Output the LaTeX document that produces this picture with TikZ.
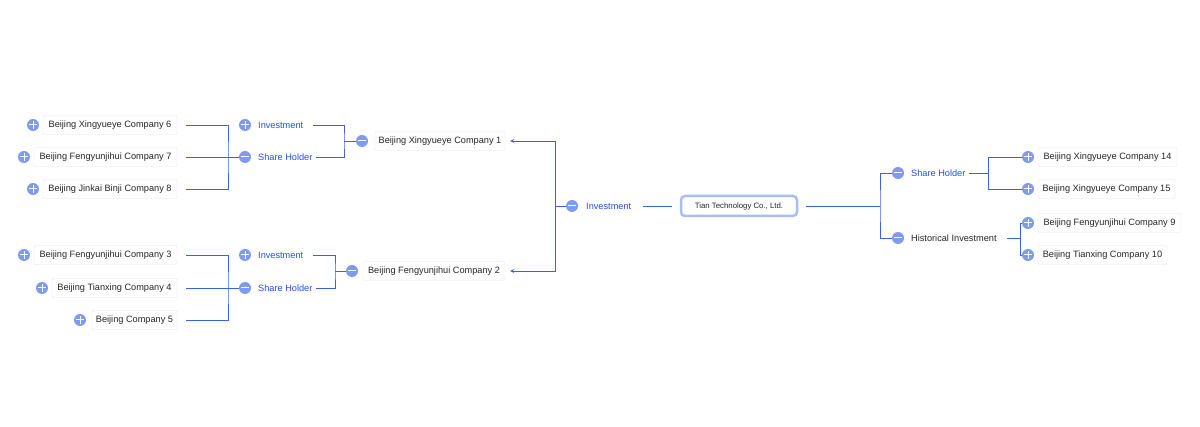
\documentclass[tikz,border=0pt]{standalone}
\usepackage{fontspec}
\setmainfont{Liberation Sans}
\definecolor{ln}{HTML}{3B5FF0}
\definecolor{tx}{HTML}{1F4FF0}
\definecolor{cf}{HTML}{7E9BF4}
\definecolor{bd}{HTML}{E4E4E4}
\definecolor{rb}{HTML}{A9BDF8}
\tikzset{
 box/.style={draw=bd,rounded corners=2pt,fill=white,minimum height=19pt,inner sep=0pt,font=\fontsize{9.2}{11}\selectfont,text=black!85},
 lbl/.style={inner sep=0pt,anchor=west,font=\fontsize{9.2}{11}\selectfont},
 blbl/.style={lbl,text=tx},
 link/.style={draw=ln,line width=0.8pt},
 btn/.style={circle,fill=cf,minimum size=12pt,inner sep=0pt},
 plusb/.style={btn,path picture={\draw[white,line width=1pt]
   ([xshift=-4pt]path picture bounding box.center)--([xshift=4pt]path picture bounding box.center)
   ([yshift=-4pt]path picture bounding box.center)--([yshift=4pt]path picture bounding box.center);}},
 minusb/.style={btn,path picture={\draw[white,line width=1pt]
   ([xshift=-4pt]path picture bounding box.center)--([xshift=4pt]path picture bounding box.center);}},
}
\begin{document}
\begin{tikzpicture}[x=1pt,y=-1pt]
\useasboundingbox (0,0) rectangle (1200,427);
% root
\node[box,draw=rb,line width=2.5pt,rounded corners=4pt,minimum width=116,minimum height=20,font=\fontsize{7.8}{9}\selectfont] (root) at (739,206) {Tian Technology Co., Ltd.};
% left side
\node[minusb] (mi) at (572,206) {};
\node[blbl] (ti) at (586,206) {Investment};
\coordinate (bi) at (555,206);
\node[box,minimum width=130] (c1) at (440,141) {Beijing Xingyueye Company 1};
\node[box,minimum width=142] (c2) at (434,271) {Beijing Fengyunjihui Company 2};
\node[minusb] (m1) at (362,141) {};
\node[minusb] (m2) at (352,271) {};
\draw[link] ([xshift=12]ti.east) -- ([xshift=-8]root.west);
\draw[link] (mi.west) -- (bi);
\draw[link,-stealth] (bi) |- ([xshift=5]c1.east);
\draw[link,-stealth] (bi) |- ([xshift=5]c2.east);
% group 1
\node[plusb] (p1i) at (245,125) {};
\node[blbl] (t1i) at (258,125) {Investment};
\node[minusb] (m1s) at (245,157) {};
\node[blbl] (t1s) at (258,157) {Share Holder};
\coordinate (b1) at (344,141);
\draw[link] (m1.west) -- (b1);
\draw[link] ([xshift=10]t1i.east) -| (b1) |- ([xshift=3]t1s.east);
\node[box,minimum width=134] (c6) at (110,125) {Beijing Xingyueye Company 6};
\node[box,minimum width=143] (c7) at (105.5,157) {Beijing Fengyunjihui Company 7};
\node[box,minimum width=134] (c8) at (110,189) {Beijing Jinkai Binji Company 8};
\node[plusb] (p6) at (33,125) {};
\node[plusb] (p7) at (24,157) {};
\node[plusb] (p8) at (33,189) {};
\coordinate (b2) at (228,157);
\draw[link] ([xshift=9]c6.east) -| (b2) |- ([xshift=9]c8.east);
\draw[link] ([xshift=9]c7.east) -- (m1s.west);
% group 2
\node[plusb] (p2i) at (245,255) {};
\node[blbl] (t2i) at (258,255) {Investment};
\node[minusb] (m2s) at (245,288) {};
\node[blbl] (t2s) at (258,288) {Share Holder};
\coordinate (b3) at (335,271);
\draw[link] (m2.west) -- (b3);
\draw[link] ([xshift=10]t2i.east) -| (b3) |- ([xshift=3]t2s.east);
\node[box,minimum width=143] (c3) at (105.5,255) {Beijing Fengyunjihui Company 3};
\node[box,minimum width=125] (c4) at (114.5,288) {Beijing Tianxing Company 4};
\node[box,minimum width=85] (c5) at (134.5,320) {Beijing Company 5};
\node[plusb] (p3) at (24,255) {};
\node[plusb] (p4) at (42,288) {};
\node[plusb] (p5) at (80,320) {};
\coordinate (b4) at (228,288);
\draw[link] ([xshift=9]c3.east) -| (b4) |- ([xshift=9]c5.east);
\draw[link] ([xshift=9]c4.east) -- (m2s.west);
% right side
\coordinate (br) at (880,206);
\draw[link] ([xshift=8]root.east) -- (br);
\node[minusb] (mrs) at (898,173) {};
\node[blbl] (trs) at (911,173) {Share Holder};
\node[minusb] (mrh) at (898,238) {};
\node[lbl,text=black!85] (trh) at (911,238) {Historical Investment};
\draw[link] (mrs.west) -| (br) |- (mrh.west);
\node[plusb] (p14) at (1028,157) {};
\node[plusb] (p15) at (1028,189) {};
\node[plusb] (p9) at (1028,223) {};
\node[plusb] (p10) at (1028,255) {};
\node[box,minimum width=139] (c14) at (1107.5,157) {Beijing Xingyueye Company 14};
\node[box,minimum width=137] (c15) at (1106.5,189) {Beijing Xingyueye Company 15};
\node[box,minimum width=143] (c9) at (1109.5,223) {Beijing Fengyunjihui Company 9};
\node[box,minimum width=129] (c10) at (1102.5,255) {Beijing Tianxing Company 10};
\coordinate (b5) at (988,173);
\coordinate (b6) at (1020,238);
\draw[link] ([xshift=3]trs.east) -- (b5);
\draw[link] (p14.west) -| (b5) |- (p15.west);
\draw[link] ([xshift=10]trh.east) -- (b6);
\draw[link] (p9.west) -| (b6) |- (p10.west);
\end{tikzpicture}
\end{document}
